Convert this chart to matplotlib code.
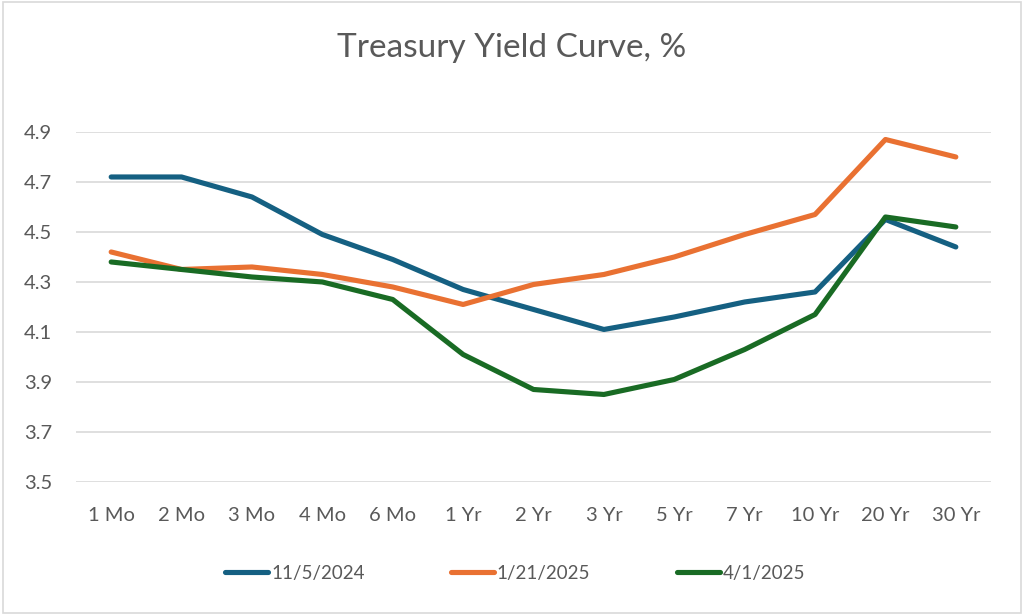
import matplotlib.pyplot as plt
from matplotlib.patches import Rectangle

plt.rcParams['font.family'] = ['Lato', 'DejaVu Sans']

# Treasury maturities and yields
maturities = ["1 Mo", "2 Mo", "3 Mo", "4 Mo", "6 Mo", "1 Yr", "2 Yr",
              "3 Yr", "5 Yr", "7 Yr", "10 Yr", "20 Yr", "30 Yr"]
yields_nov = [4.72, 4.72, 4.64, 4.49, 4.39, 4.27, 4.19, 4.11, 4.16, 4.22, 4.26, 4.55, 4.44]
yields_jan = [4.42, 4.35, 4.36, 4.33, 4.28, 4.21, 4.29, 4.33, 4.40, 4.49, 4.57, 4.87, 4.80]
yields_apr = [4.38, 4.35, 4.32, 4.30, 4.23, 4.01, 3.87, 3.85, 3.91, 4.03, 4.17, 4.56, 4.52]
series_labels = ["11/5/2024", "1/21/2025", "4/1/2025"]
y_ticks = [3.5, 3.7, 3.9, 4.1, 4.3, 4.5, 4.7, 4.9]

colors = ["#156082", "#E97132", "#196B24"]
text_color = "#595959"

fig = plt.figure(figsize=(10.24, 6.15), dpi=100)
ax = fig.add_axes([0.0742, 0.2163, 0.8936, 0.5691])

x = range(len(maturities))
for vals, lab, c in zip([yields_nov, yields_jan, yields_apr], series_labels, colors):
    ax.plot(x, vals, color=c, linewidth=3.7, label=lab,
            solid_capstyle="round", solid_joinstyle="round")

ax.set_xlim(-0.5, len(maturities) - 0.5)
ax.set_ylim(3.5, 4.9)
ax.set_yticks(y_ticks)
ax.set_yticklabels([f"{t:.1f}" for t in y_ticks])
ax.set_xticks(list(x))
ax.set_xticklabels(maturities)
ax.tick_params(axis="both", length=0, labelsize=14.5, colors=text_color)
ax.tick_params(axis="x", pad=18)
ax.tick_params(axis="y", pad=17)
ax.grid(axis="y", color="#D9D9D9", linewidth=1.2)
ax.set_axisbelow(True)
for s in ax.spines.values():
    s.set_visible(False)

fig.text(0.5, 0.922, "Treasury Yield Curve, %", ha="center", va="center",
         fontsize=24, color=text_color)

leg = fig.legend(loc="center", bbox_to_anchor=(0.503, 0.068), ncol=3, frameon=False,
                 fontsize=13.5, handlelength=2.3, handletextpad=0.15, columnspacing=4.6)
for t in leg.get_texts():
    t.set_color(text_color)

fig.patches.append(Rectangle((0.003, 0.003), 0.994, 0.994, transform=fig.transFigure,
                             fill=False, edgecolor="#D9D9D9", linewidth=1.2))

fig.savefig("out.png", dpi=100)
